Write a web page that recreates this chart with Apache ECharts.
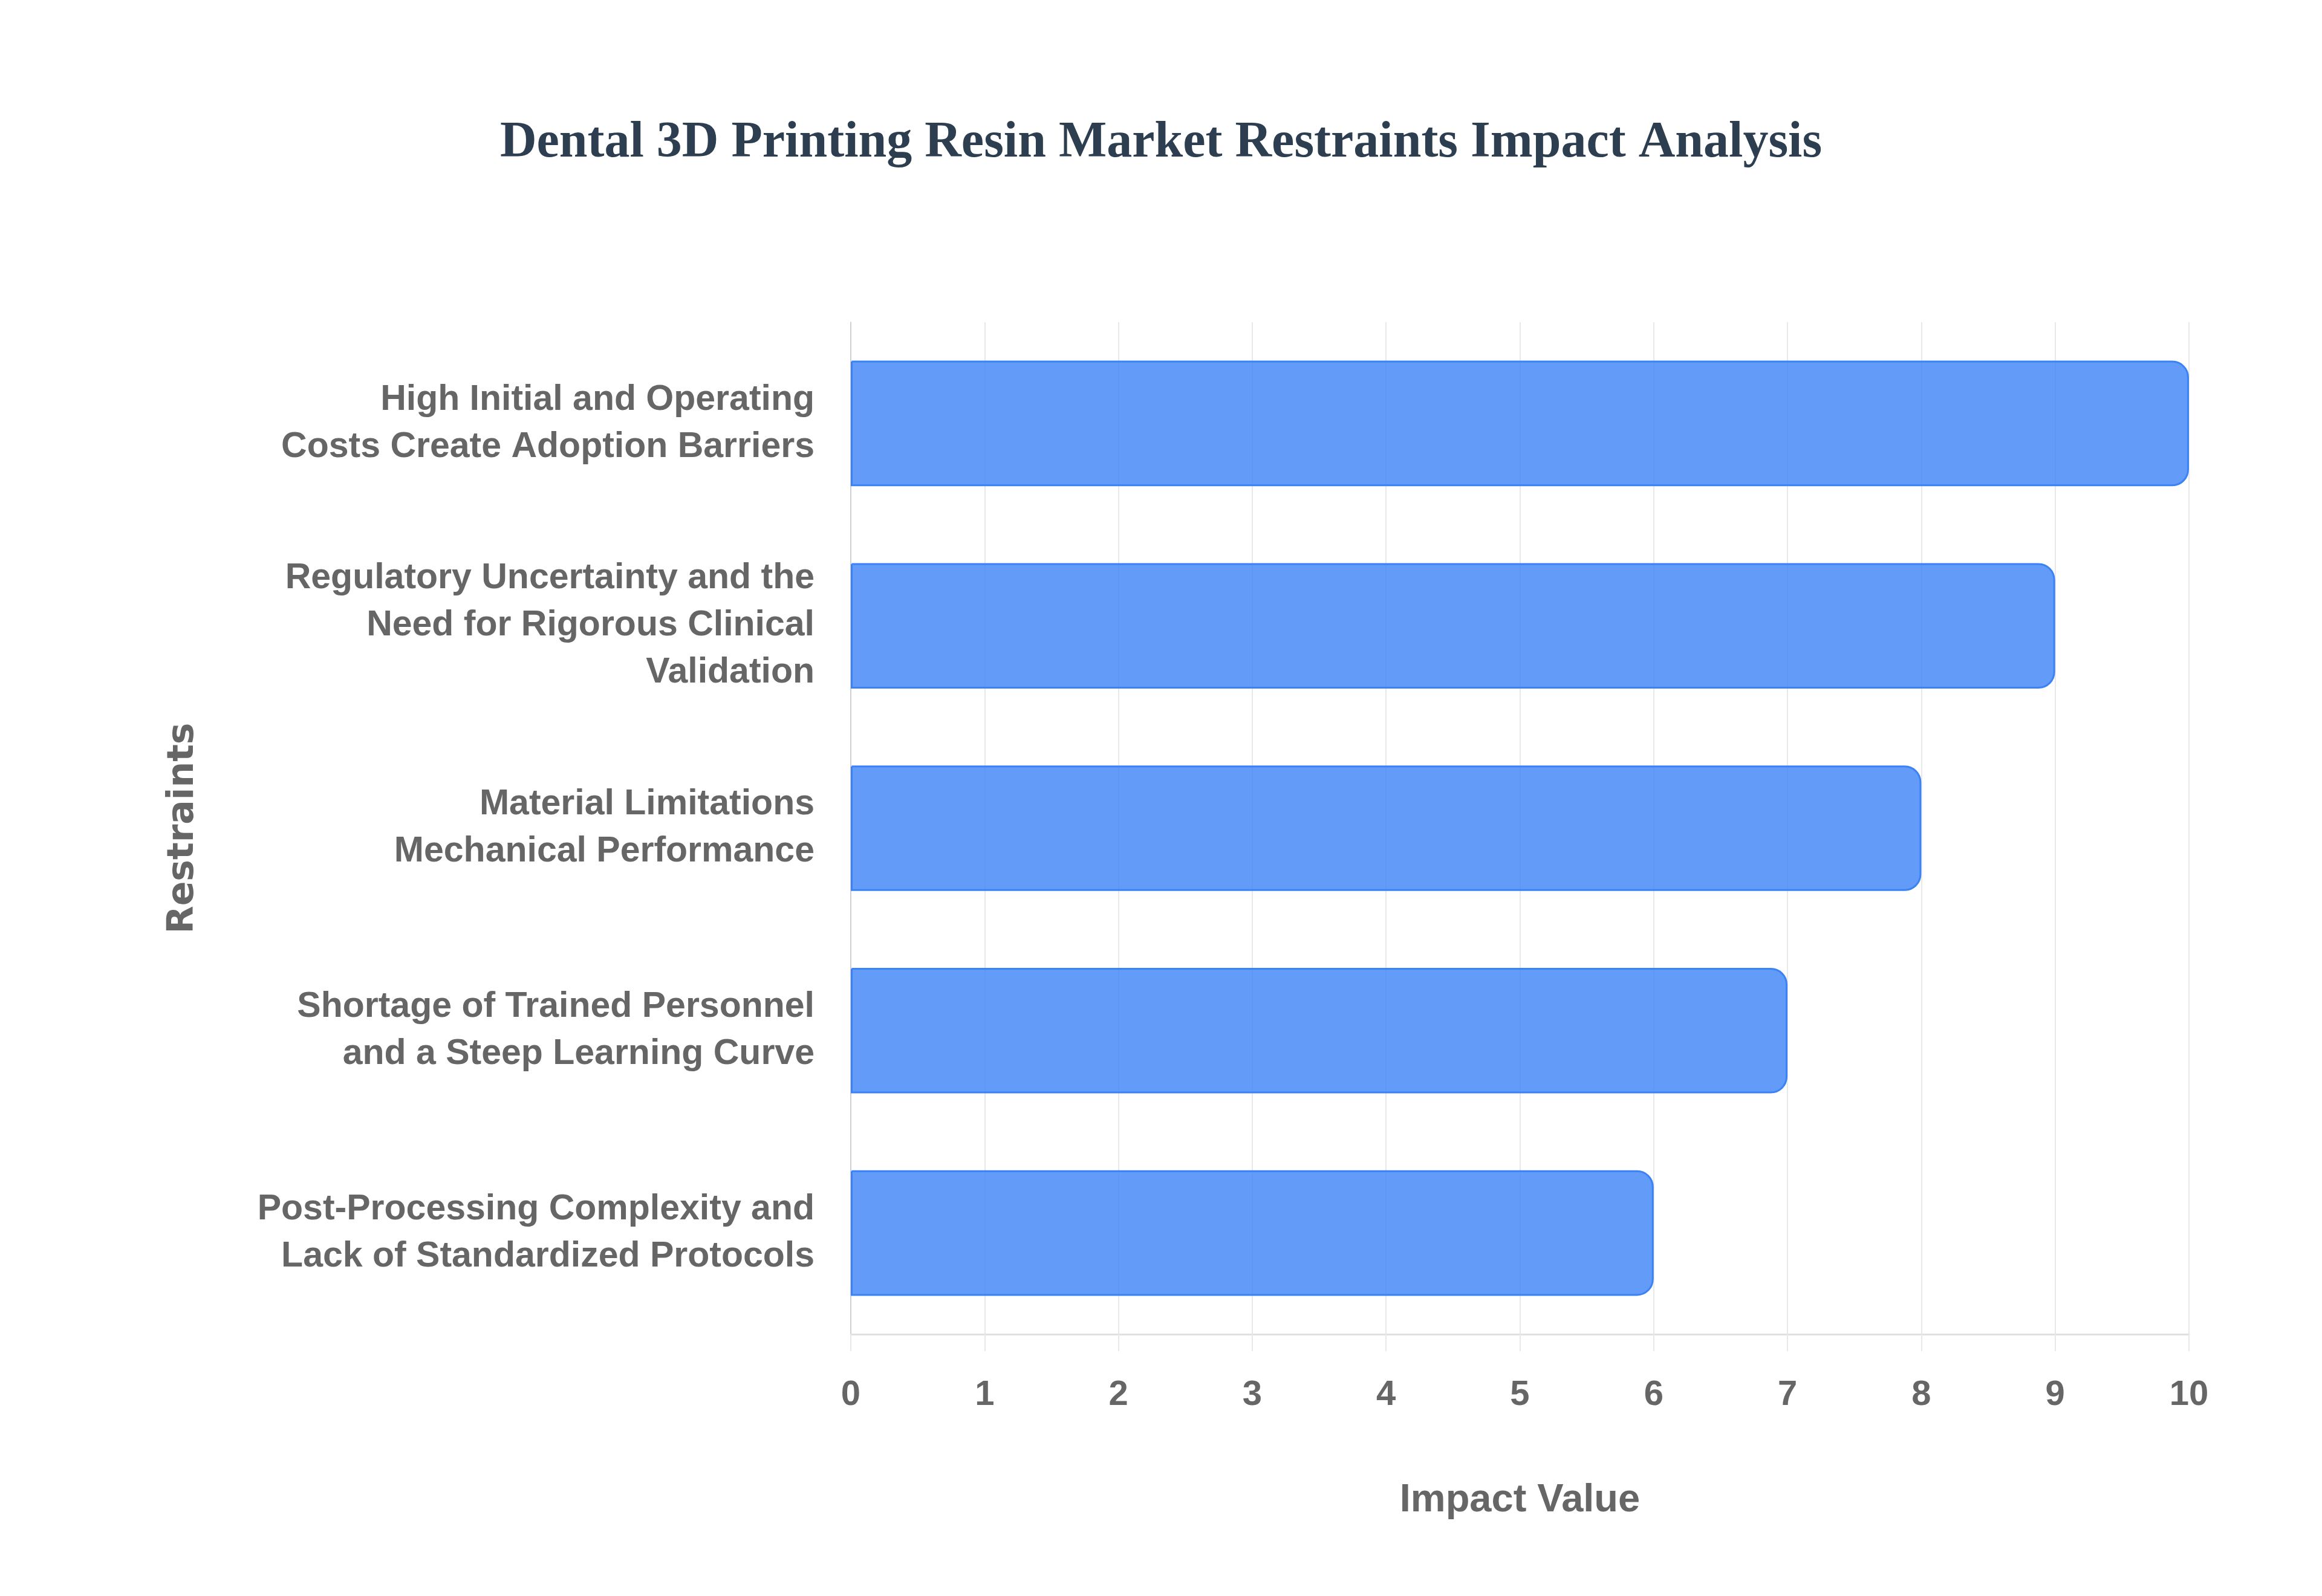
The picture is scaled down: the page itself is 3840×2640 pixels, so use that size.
<!DOCTYPE html>
<html>
<head>
<meta charset="utf-8">
<script src="https://cdn.jsdelivr.net/npm/echarts@6/dist/echarts.min.js"></script>
<style>
  html, body { margin: 0; padding: 0; background: #fff; }
  #chart { width: 3840px; height: 2640px; }
</style>
</head>
<body>
<div id="chart"></div>
<script>
// restraint names, top to bottom (line breaks as in the picture)
var restraints = [
    'High Initial and Operating\nCosts Create Adoption Barriers',
    'Regulatory Uncertainty and the\nNeed for Rigorous Clinical\nValidation',
    'Material Limitations\nMechanical Performance',
    'Shortage of Trained Personnel\nand a Steep Learning Curve',
    'Post-Processing Complexity and\nLack of Standardized Protocols'
];
var impactValues = [10, 9, 8, 7, 6];

var labelColor = '#666666';

var myChart = echarts.init(document.getElementById('chart'));

var option = {
    backgroundColor: '#ffffff',
    title: {
        text: 'Dental 3D Printing Resin Market Restraints Impact Analysis',
        left: 'center',
        top: 190,
        textStyle: {
            fontFamily: 'Liberation Serif',
            fontWeight: 'bold',
            fontSize: 84,
            color: '#2c3e50'
        }
    },
    grid: {
        left: 1407,
        right: 220,
        top: 533,
        bottom: 433
    },
    xAxis: {
        type: 'value',
        min: 0,
        max: 10,
        interval: 1,
        name: 'Impact Value',
        nameLocation: 'middle',
        nameGap: 243,
        nameTextStyle: {
            fontFamily: 'Liberation Sans',
            fontWeight: 'bold',
            fontSize: 65,
            color: labelColor
        },
        axisLine: {
            show: true,
            lineStyle: { color: '#e0e0e0', width: 3 }
        },
        axisTick: {
            show: true,
            length: 28,
            lineStyle: { color: '#e8e8e8', width: 2 }
        },
        axisLabel: {
            margin: 72,
            fontFamily: 'Liberation Sans',
            fontWeight: 'bold',
            fontSize: 58,
            color: labelColor
        },
        splitLine: {
            show: true,
            lineStyle: { color: '#e8e8e8', width: 2 }
        }
    },
    yAxis: {
        type: 'category',
        inverse: true,
        data: restraints,
        name: 'Restraints',
        nameLocation: 'middle',
        nameGap: 1074,
        nameRotate: 90,
        nameTextStyle: {
            fontFamily: 'DejaVu Sans',
            fontWeight: 'bold',
            fontSize: 60,
            color: labelColor
        },
        axisLine: {
            show: true,
            lineStyle: { color: '#d0d0d0', width: 2 }
        },
        axisTick: { show: false },
        axisLabel: {
            margin: 60,
            fontFamily: 'Liberation Sans',
            fontWeight: 'bold',
            fontSize: 59,
            lineHeight: 78,
            color: labelColor,
            align: 'right'
        },
        splitLine: { show: false }
    },
    series: [{
        type: 'bar',
        data: impactValues,
        barWidth: '62%',
        itemStyle: {
            color: 'rgba(59,130,246,0.8)',
            borderColor: '#3b82f6',
            borderWidth: 3,
            borderRadius: [0, 26, 26, 0]
        }
    }]
};

myChart.setOption(option);
</script>
</body>
</html>
